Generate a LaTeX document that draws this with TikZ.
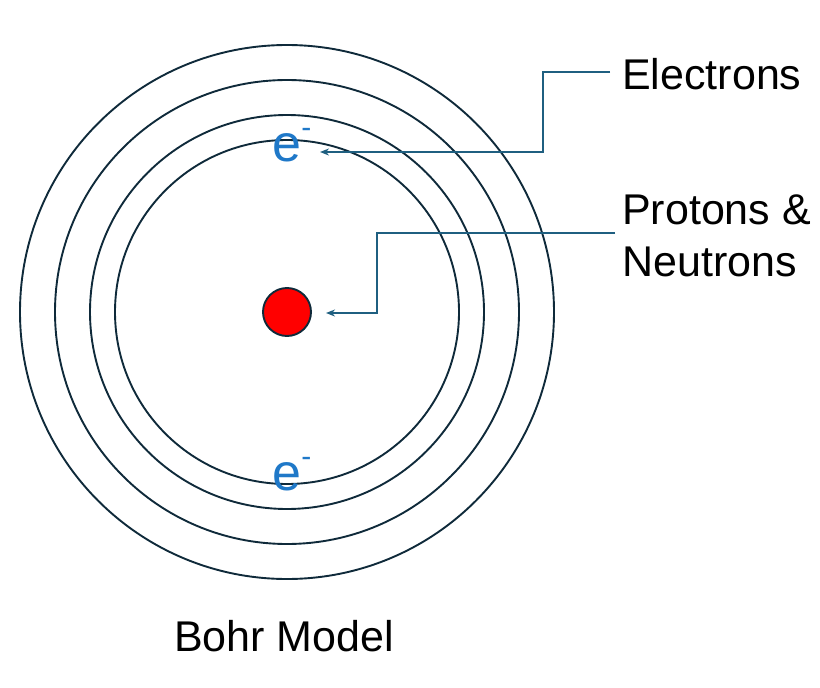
\documentclass[tikz,border=0pt]{standalone}
\usepackage{fontspec}
\setmainfont{Liberation Sans}
\usetikzlibrary{arrows.meta}
\definecolor{orb}{HTML}{0F2A3A}
\definecolor{arr}{HTML}{1F5F80}
\definecolor{eblue}{HTML}{1F78C8}
\begin{document}
\begin{tikzpicture}[x=1pt,y=-1pt,
  orbit/.style={draw=orb,line width=1.9pt},
  lbl/.style={font=\fontsize{43}{52}\selectfont,anchor=west,inner sep=0pt},
  elec/.style={text=eblue,font=\fontsize{52}{52}\selectfont,inner sep=0pt},
  conn/.style={draw=arr,line width=1.8pt,-{Stealth[length=9pt,width=7pt]}}]
\useasboundingbox (0,0) rectangle (820,688);
\coordinate (c) at (287,312);
\draw[orbit] (c) circle[radius=267];
\draw[orbit] (c) circle[radius=232];
\draw[orbit] (c) circle[radius=197];
\draw[orbit] (c) circle[radius=172];
\node[circle,draw=orb,line width=1.9pt,fill=red,minimum size=48pt,inner sep=0pt] (nuc) at (c) {};
\node[elec] (e1) at (292,145) {e\raisebox{0.45em}{\fontsize{30}{30}\selectfont -}};
\node[elec] (e2) at (292,474) {e\raisebox{0.45em}{\fontsize{30}{30}\selectfont -}};
\node[lbl] (el) at (622,74) {Electrons};
\node[lbl,align=left] (pn) at (622,236) {Protons \&\\Neutrons};
\node[font=\fontsize{43}{48}\selectfont,inner sep=0pt] (bm) at (284,636) {Bohr Model};
\coordinate (a1) at (610,72);
\coordinate (a1t) at (320,152);
\draw[conn] (a1) -- (543,72) -- (543,152) -- (a1t);
\coordinate (a2) at (615,233);
\coordinate (a2t) at (326,313);
\draw[conn] (a2) -- (377,233) -- (377,313) -- (a2t);
\end{tikzpicture}
\end{document}
